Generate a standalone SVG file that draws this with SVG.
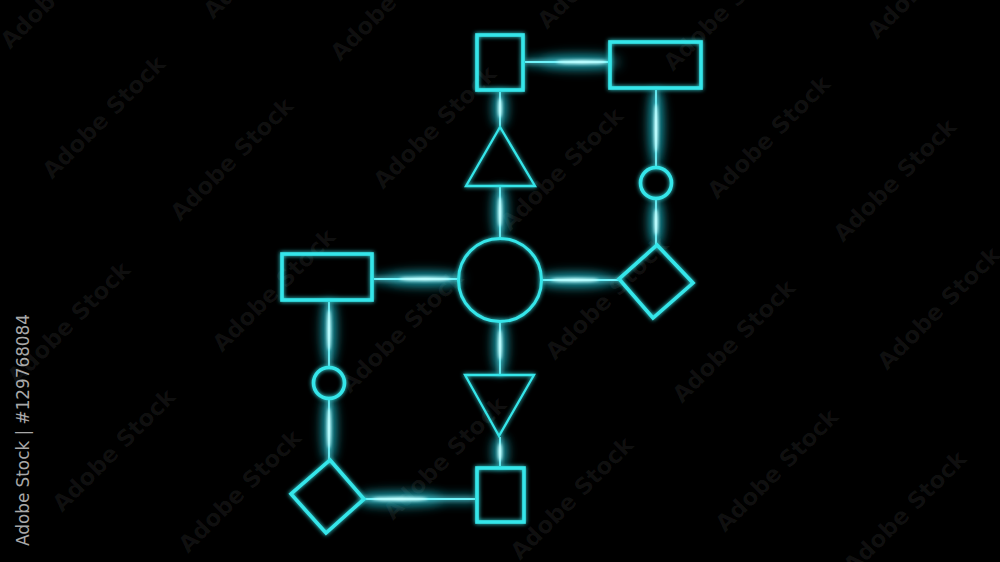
<svg xmlns="http://www.w3.org/2000/svg" width="1000" height="562" viewBox="0 0 1000 562">
<defs>
<style>
.wm{font-family:"DejaVu Sans","Liberation Sans",sans-serif;font-weight:bold;font-size:23px;fill:#ffffff;fill-opacity:0.065}
.id{font-family:"DejaVu Sans","Liberation Sans",sans-serif;font-size:18px;fill:#a8a8a8}
.shape{fill:none;stroke:#36e6ea;stroke-width:3.6;stroke-linejoin:miter}
.thin{stroke-width:2.3}
.halo{stroke:#18c4d6;stroke-width:11;stroke-opacity:0.42;fill:none}
.core{stroke:#6ff2fa;stroke-width:1.8;fill:none}
.flare{fill:#d0ffff;fill-opacity:0.95}
.bloom{fill:#2fd8e8;fill-opacity:0.55}
</style>
<filter id="blur" filterUnits="userSpaceOnUse" x="0" y="0" width="1000" height="562">
<feGaussianBlur stdDeviation="4.5"/>
</filter>
<filter id="bigblur" filterUnits="userSpaceOnUse" x="0" y="0" width="1000" height="562">
<feGaussianBlur stdDeviation="6"/>
</filter>
<filter id="soft" filterUnits="userSpaceOnUse" x="0" y="0" width="1000" height="562">
<feGaussianBlur stdDeviation="1.6"/>
</filter>
<filter id="glow" filterUnits="userSpaceOnUse" x="0" y="0" width="1000" height="562">
<feGaussianBlur in="SourceGraphic" stdDeviation="2" result="b"/>
<feMerge><feMergeNode in="b"/><feMergeNode in="SourceGraphic"/></feMerge>
</filter>
</defs>
<rect width="1000" height="562" fill="#000"/>

<g id="watermarks">
<text class="wm" transform="translate(10,50) rotate(-45)">Adobe Stock</text>
<text class="wm" transform="translate(213,20) rotate(-45)">Adobe Stock</text>
<text class="wm" transform="translate(340,62) rotate(-45)">Adobe Stock</text>
<text class="wm" transform="translate(547,30) rotate(-45)">Adobe Stock</text>
<text class="wm" transform="translate(673,72) rotate(-45)">Adobe Stock</text>
<text class="wm" transform="translate(877,40) rotate(-45)">Adobe Stock</text>
<text class="wm" transform="translate(52,180) rotate(-45)">Adobe Stock</text>
<text class="wm" transform="translate(180,222) rotate(-45)">Adobe Stock</text>
<text class="wm" transform="translate(383,190) rotate(-45)">Adobe Stock</text>
<text class="wm" transform="translate(510,232) rotate(-45)">Adobe Stock</text>
<text class="wm" transform="translate(717,200) rotate(-45)">Adobe Stock</text>
<text class="wm" transform="translate(843,243) rotate(-45)">Adobe Stock</text>
<text class="wm" transform="translate(17,386) rotate(-45)">Adobe Stock</text>
<text class="wm" transform="translate(222,353) rotate(-45)">Adobe Stock</text>
<text class="wm" transform="translate(350,394) rotate(-45)">Adobe Stock</text>
<text class="wm" transform="translate(555,361) rotate(-45)">Adobe Stock</text>
<text class="wm" transform="translate(682,404) rotate(-45)">Adobe Stock</text>
<text class="wm" transform="translate(887,371) rotate(-45)">Adobe Stock</text>
<text class="wm" transform="translate(62,513) rotate(-45)">Adobe Stock</text>
<text class="wm" transform="translate(188,554) rotate(-45)">Adobe Stock</text>
<text class="wm" transform="translate(393,521) rotate(-45)">Adobe Stock</text>
<text class="wm" transform="translate(520,561) rotate(-45)">Adobe Stock</text>
<text class="wm" transform="translate(725,533) rotate(-45)">Adobe Stock</text>
<text class="wm" transform="translate(853,575) rotate(-45)">Adobe Stock</text>
</g>
<text class="id" transform="translate(29,546) rotate(-90)" textLength="232" lengthAdjust="spacingAndGlyphs">Adobe Stock | #129768084</text>

<g id="connectors">
<g filter="url(#bigblur)">
<ellipse class="bloom" cx="580" cy="62" rx="40" ry="7"/>
<ellipse class="bloom" cx="500" cy="108" rx="7" ry="16"/>
<ellipse class="bloom" cx="500" cy="212" rx="7" ry="24"/>
<ellipse class="bloom" cx="656" cy="125" rx="7" ry="34"/>
<ellipse class="bloom" cx="656" cy="222" rx="7" ry="20"/>
<ellipse class="bloom" cx="425" cy="279" rx="38" ry="7"/>
<ellipse class="bloom" cx="575" cy="280" rx="34" ry="7"/>
<ellipse class="bloom" cx="329" cy="330" rx="7" ry="30"/>
<ellipse class="bloom" cx="329" cy="428" rx="7" ry="30"/>
<ellipse class="bloom" cx="500" cy="345" rx="7" ry="24"/>
<ellipse class="bloom" cx="500" cy="452" rx="7" ry="14"/>
<ellipse class="bloom" cx="400" cy="499" rx="42" ry="7"/>
</g>
<g filter="url(#blur)">
<line class="halo" x1="525" y1="62" x2="608" y2="62"/>
<line class="halo" x1="500" y1="92" x2="500" y2="126"/>
<line class="halo" x1="500" y1="186" x2="500" y2="238"/>
<line class="halo" x1="656" y1="90" x2="656" y2="167"/>
<line class="halo" x1="656" y1="199" x2="656" y2="245"/>
<line class="halo" x1="374" y1="279" x2="458" y2="279"/>
<line class="halo" x1="542" y1="280" x2="619" y2="280"/>
<line class="halo" x1="329" y1="302" x2="329" y2="367"/>
<line class="halo" x1="329" y1="399" x2="329" y2="460"/>
<line class="halo" x1="500" y1="322" x2="500" y2="375"/>
<line class="halo" x1="500" y1="437" x2="500" y2="466"/>
<line class="halo" x1="364" y1="499" x2="475" y2="499"/>
</g>
<g filter="url(#glow)">
<line class="core" x1="525" y1="62" x2="608" y2="62"/>
<line class="core" x1="500" y1="92" x2="500" y2="126"/>
<line class="core" x1="500" y1="186" x2="500" y2="238"/>
<line class="core" x1="656" y1="90" x2="656" y2="167"/>
<line class="core" x1="656" y1="199" x2="656" y2="245"/>
<line class="core" x1="374" y1="279" x2="458" y2="279"/>
<line class="core" x1="542" y1="280" x2="619" y2="280"/>
<line class="core" x1="329" y1="302" x2="329" y2="367"/>
<line class="core" x1="329" y1="399" x2="329" y2="460"/>
<line class="core" x1="500" y1="322" x2="500" y2="375"/>
<line class="core" x1="500" y1="437" x2="500" y2="466"/>
<line class="core" x1="364" y1="499" x2="475" y2="499"/>
</g>
<g filter="url(#soft)">
<ellipse class="flare" cx="582" cy="62" rx="26" ry="2"/>
<ellipse class="flare" cx="500" cy="108" rx="2" ry="10"/>
<ellipse class="flare" cx="500" cy="212" rx="2" ry="15"/>
<ellipse class="flare" cx="656" cy="128" rx="2" ry="24"/>
<ellipse class="flare" cx="656" cy="222" rx="2" ry="13"/>
<ellipse class="flare" cx="425" cy="279" rx="26" ry="2"/>
<ellipse class="flare" cx="575" cy="280" rx="24" ry="2"/>
<ellipse class="flare" cx="329" cy="330" rx="2" ry="20"/>
<ellipse class="flare" cx="329" cy="428" rx="2" ry="20"/>
<ellipse class="flare" cx="500" cy="345" rx="2" ry="15"/>
<ellipse class="flare" cx="500" cy="452" rx="2" ry="9"/>
<ellipse class="flare" cx="400" cy="499" rx="28" ry="2"/>
</g>
</g>

<g filter="url(#glow)">
<g id="top-square"><rect class="shape" x="477" y="35" width="46" height="55"/></g>
<g id="top-rect"><rect class="shape" x="610" y="42" width="91" height="46"/></g>
<g id="up-triangle"><polygon class="shape thin" points="500,127 466,186 535,186"/></g>
<g id="right-circle"><circle class="shape" cx="656" cy="183" r="15.5"/></g>
<g id="center-circle"><circle class="shape" cx="500" cy="280" r="41.5" style="stroke-width:3"/></g>
<g id="left-rect"><rect class="shape" x="282" y="254" width="90" height="46"/></g>
<g id="right-diamond"><polygon class="shape" points="657,245 693,283 653,318 619,279"/></g>
<g id="left-circle"><circle class="shape" cx="329" cy="383" r="15.5"/></g>
<g id="down-triangle"><polygon class="shape thin" points="465,375 534,375 499,436"/></g>
<g id="left-diamond"><polygon class="shape" points="330,460 364,499 326,533 291,494"/></g>
<g id="bottom-square"><rect class="shape" x="477" y="468" width="47" height="54"/></g>
</g>
</svg>
